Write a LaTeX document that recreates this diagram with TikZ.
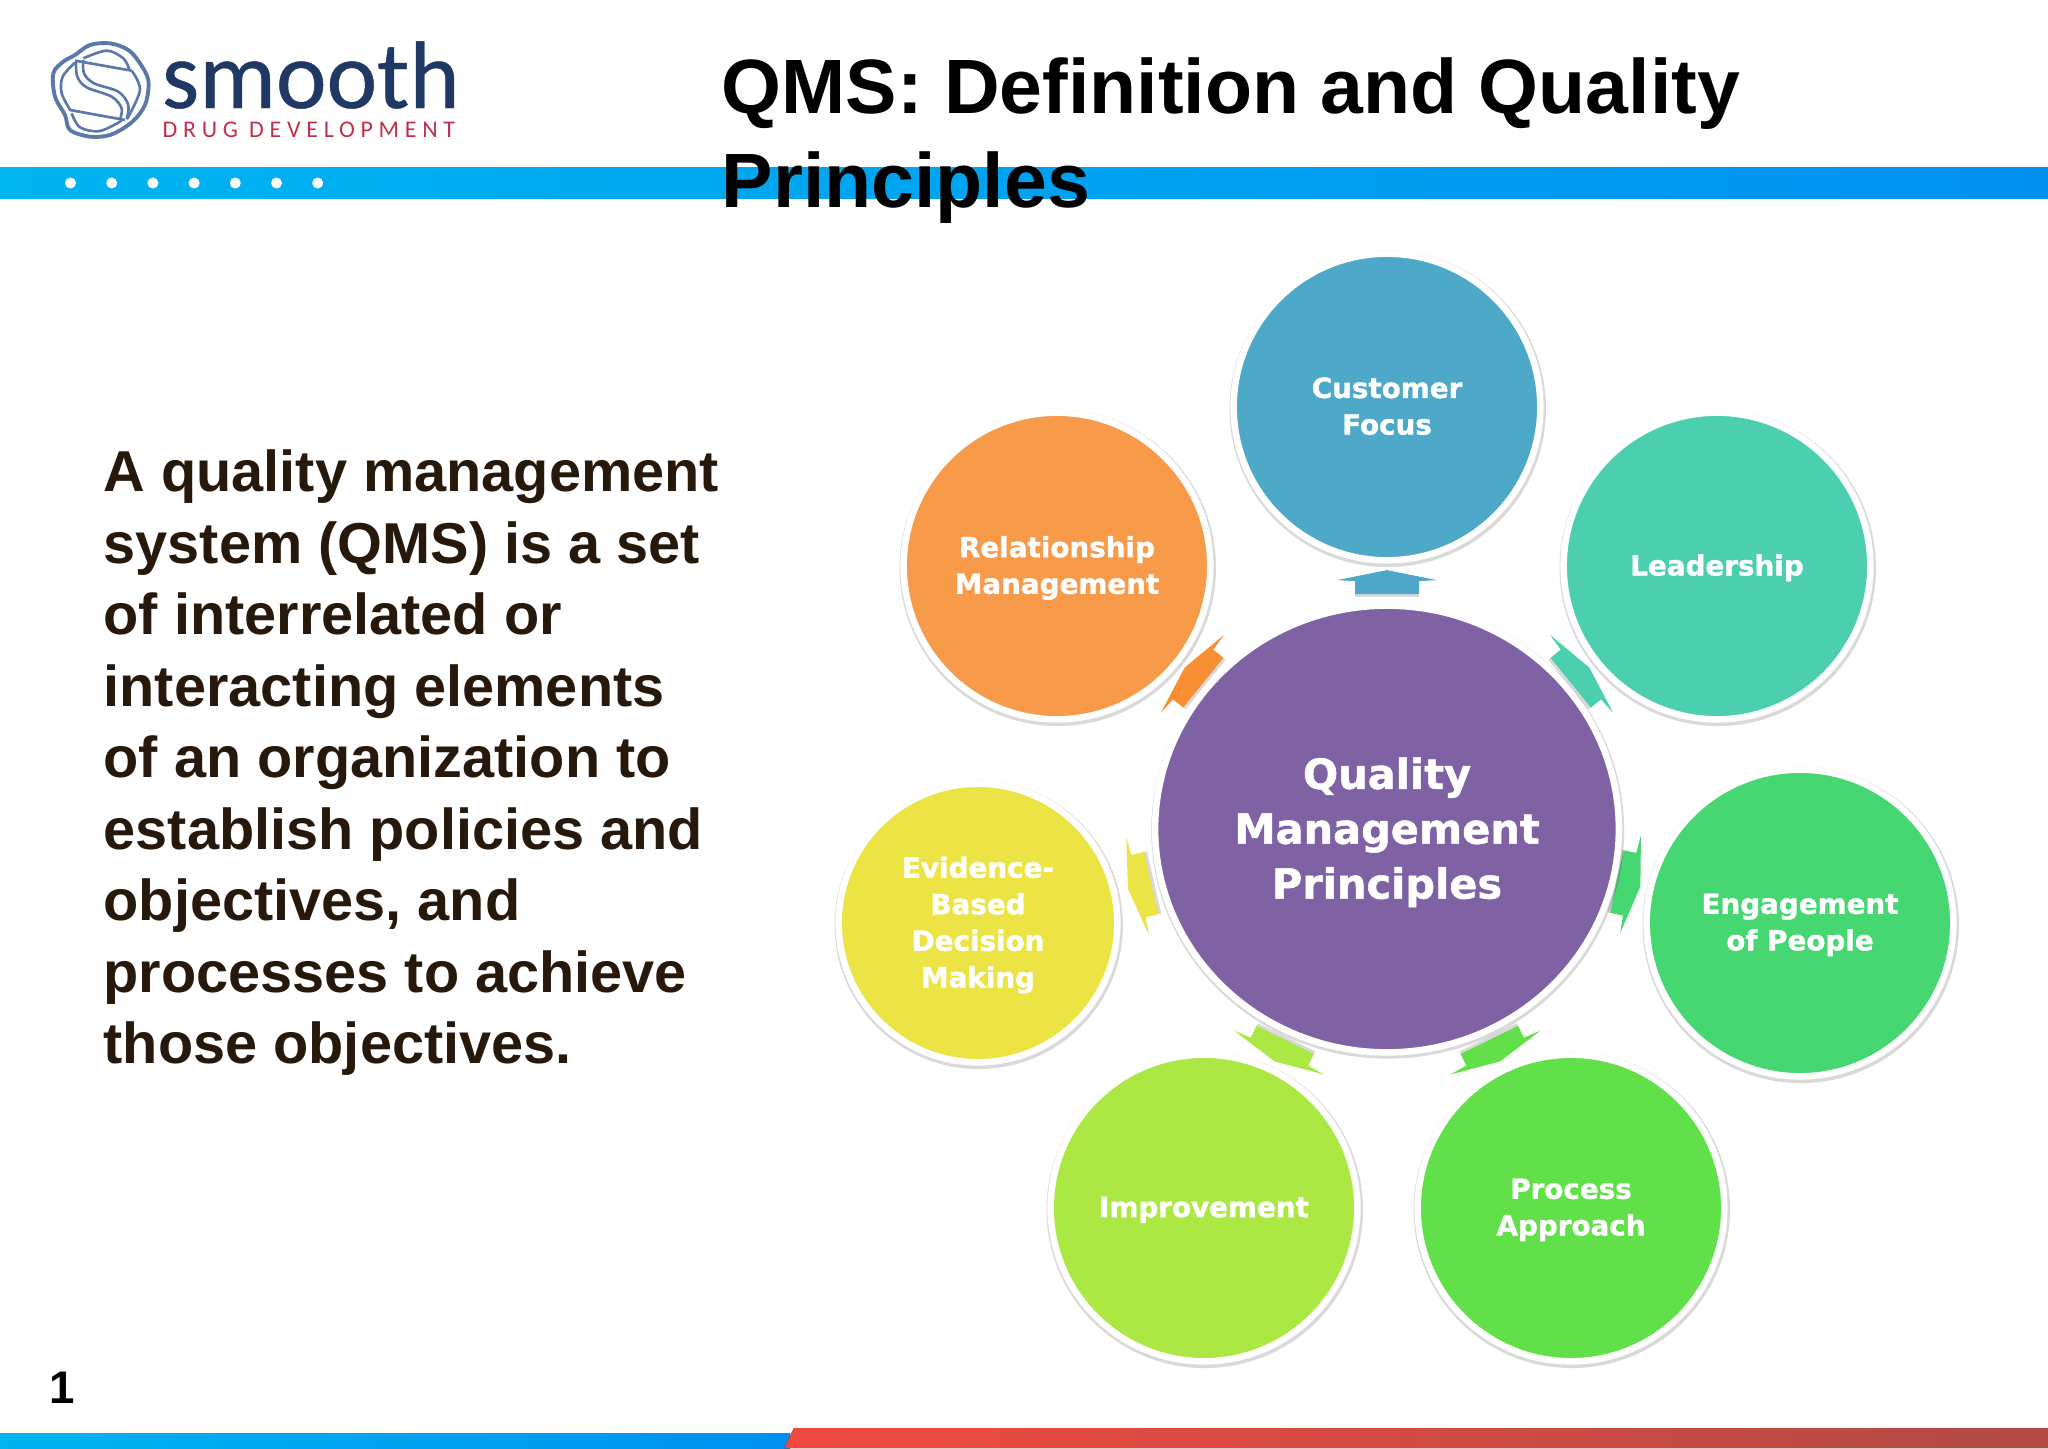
\documentclass[tikz,border=0pt]{standalone}
\usepackage{fontspec}
\setmainfont{Liberation Sans}
\newfontfamily\bubblefont[BoldFeatures={FakeBold=1.2}]{DejaVu Sans}
\newfontfamily\logofont[FakeBold=0.5]{Carlito}
\newfontfamily\logosmallfont[LetterSpace=24]{Carlito}
\usetikzlibrary{calc, shadows, backgrounds, shapes.geometric}

\definecolor{barblue}{RGB}{0,180,240}
\definecolor{bardeep}{RGB}{0,145,240}
\definecolor{barred}{RGB}{240,74,64}
\definecolor{bardark}{RGB}{178,75,68}
\definecolor{bodybrown}{RGB}{38,24,10}
\definecolor{logonavy}{RGB}{32,56,100}
\definecolor{logored}{RGB}{192,48,76}
\definecolor{logoring}{RGB}{92,120,170}
\definecolor{customercol}{RGB}{78,168,200}
\definecolor{leadercol}{RGB}{75,207,174}
\definecolor{peoplecol}{RGB}{70,214,114}
\definecolor{processcol}{RGB}{98,224,74}
\definecolor{improvecol}{RGB}{171,232,68}
\definecolor{evidencecol}{RGB}{236,228,68}
\definecolor{relationcol}{RGB}{247,154,74}
\definecolor{relationtip}{RGB}{247,144,50}
\definecolor{qualitycol}{RGB}{127,98,163}

\tikzset{
	rimshadow/.style={drop shadow={shadow xshift=0.2pt, shadow yshift=-0.5pt, shadow scale=#1, fill=black, opacity=0.15}},
	bubble/.style={circle, fill=#1, draw=white, line width=1.85pt, minimum size=3.065cm, inner sep=0pt, align=center, text=white, text depth=0.6pt,
		font=\bubblefont\bfseries\fontsize{7.9}{10.4}\selectfont},
	blockarrow/.style={fill=#1, draw=none},
	logoline/.style={logoring, line width=0.75pt, smooth, tension=0.55},
	titletext/.style={anchor=north west, inner sep=0pt, align=left, font=\bfseries\fontsize{21.9}{26.7}\selectfont},
	bodytext/.style={anchor=north west, inner sep=0pt, align=left, text=bodybrown, font=\bfseries\fontsize{16.4}{20.34}\selectfont},
}

\begin{document}
\begin{tikzpicture}[x=0.01cm, y=-0.01cm]
	\useasboundingbox (0,0) rectangle (2048,1448);

	\fill[left color=barblue, right color=bardeep] (0,167) rectangle (2048,198);
	\foreach \i in {0,...,6} {
		\fill[white] (70.5+41.2*\i,183) circle (5.5);
	}
	\fill[left color=barblue, right color=bardeep] (0,1433) rectangle (790,1448);
	\fill[left color=barred, right color=bardark] (794,1428) -- (2048,1428) -- (2048,1448) -- (784,1448) -- cycle;

	\begin{scope}[shift={(40,30)}, scale=0.3333]
		\draw[logoline, line width=1.1pt] plot[smooth cycle] coordinates {(150,45) (210,40) (265,60) (300,100) (325,150) (320,210) (300,250) (265,285) (210,315) (150,320) (90,300) (75,255) (45,200) (40,130) (70,95) (105,75)};
		\draw[logoline] plot coordinates {(105,98) (68,140) (65,190) (92,242)};
		\draw[logoline] plot coordinates {(275,122) (300,180) (262,266)};
		\draw[logoline] plot coordinates {(130,85) (200,62) (250,85) (268,118)};
		\draw[logoline] plot coordinates {(95,250) (120,292) (180,303) (245,272)};
		\draw[logoline] (105,92) -- (275,122);
		\draw[logoline] (90,240) -- (255,270);
		\draw[logoline] plot coordinates {(108,95) (112,140) (140,172) (215,200) (245,235) (240,268)};
		\draw[logoline] plot coordinates {(130,90) (132,130) (162,160) (235,185) (265,225) (260,268)};
	\end{scope}
	\node[anchor=base west, inner sep=0pt, text=logonavy, font=\logofont\fontsize{27.3}{30}\selectfont] (logoname) at (161,108) {smooth};
	\node[anchor=base west, inner sep=0pt, text=logored, font=\logosmallfont\fontsize{6.8}{7}\selectfont] (logosub) at (162,137) {DRUG DEVELOPMENT};

	\node[titletext] (title) at (721,57) {QMS: Definition and Quality\\Principles};

	\node[bodytext] (body) at (103,449) {A quality management\\system (QMS) is a set\\of interrelated or\\interacting elements\\of an organization to\\establish policies and\\objectives, and\\processes to achieve\\those objectives.};

	\node[bubble=qualitycol, ellipse, rimshadow=1.02, minimum width=4.635cm, minimum height=4.465cm, font=\bubblefont\bfseries\fontsize{11.8}{15.6}\selectfont] (quality) at (1387,829) {Quality\\Management\\Principles};
	\node[bubble=customercol, rimshadow=1.032] (customer) at (1387,407) {Customer\\Focus};
	\node[bubble=leadercol, rimshadow=1.032] (leader) at (1717,566) {Leadership};
	\node[bubble=peoplecol, rimshadow=1.032] (people) at (1800,923) {Engagement\\of People};
	\node[bubble=processcol, rimshadow=1.032] (process) at (1571,1208) {Process\\Approach};
	\node[bubble=improvecol, rimshadow=1.032] (improve) at (1204,1208) {Improvement};
	\node[bubble=evidencecol, rimshadow=1.035, minimum size=2.785cm] (evidence) at (978,923) {Evidence-\\Based\\Decision\\Making};
	\node[bubble=relationcol, rimshadow=1.032] (relation) at (1057,566) {Relationship\\Management};

	\begin{scope}[on background layer]
		\foreach \target/\col/\ang/\frac in {customer/customercol/0/0.585, leader/leadercol/-51/0.585, people/peoplecol/-102/0.585, process/processcol/-154/0.585, improve/improvecol/154/0.585, evidence/evidencecol/103/0.605, relation/relationtip/51/0.585} {
			\begin{scope}[shift={($(quality)!\frac!(\target)$)}, rotate=\ang]
				\fill[blockarrow=\col] (0,-12) -- (50,-2) -- (32,-1) -- (32,12) -- (-32,12) -- (-32,-1) -- (-50,-2) -- cycle;
				\fill[black, opacity=0.15] (32,12) -- (32,15) -- (-32,15) -- (-32,12) -- cycle;
			\end{scope}
		}
	\end{scope}

	\node[anchor=base west, inner sep=0pt, font=\bfseries\fontsize{13}{13}\selectfont] (pagenum) at (49,1403) {1};
\end{tikzpicture}
\end{document}
